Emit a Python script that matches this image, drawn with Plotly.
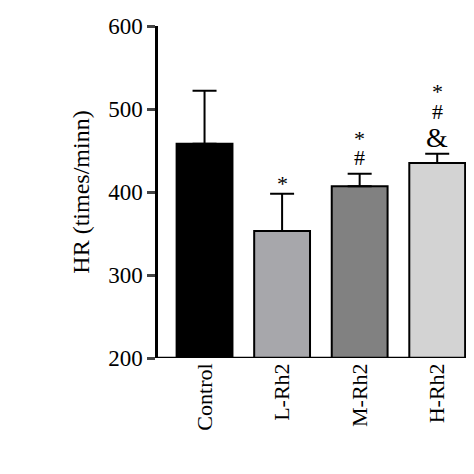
import plotly.graph_objects as go

groups = ["Control", "L-Rh2", "M-Rh2", "H-Rh2"]
hr_mean = [458, 353, 407, 435]
hr_err = [64, 45, 15, 11]
bar_colors = ["#000000", "#a7a7ab", "#818181", "#d3d3d3"]
# significance marks per group: (text, y value)
marks = [[], [("*", 410), ], [("*", 465), ("#", 441)], [("*", 521), ("#", 497), ("&", 466)]]

fig = go.Figure(go.Bar(
    x=groups, y=hr_mean,
    marker=dict(color=bar_colors, line=dict(color="black", width=2)),
    error_y=dict(type="data", symmetric=False, array=hr_err, arrayminus=[0]*4,
                 color="black", thickness=2, width=12),
    width=0.72,
))

for i, ms in enumerate(marks):
    for txt, yv in ms:
        fig.add_annotation(x=i, y=yv, text=txt, showarrow=False,
                           font=dict(size=28 if txt == "&" else 22, family="Liberation Serif", color="black"))

fig.update_layout(
    width=474, height=474, plot_bgcolor="white", paper_bgcolor="white",
    margin=dict(l=150, r=6, t=18, b=124), showlegend=False,
    font=dict(family="Liberation Serif", size=22, color="black"),
    yaxis=dict(range=[200, 600], tickvals=[200, 300, 400, 500, 600], showline=True,
               linecolor="black", linewidth=2.5, ticks="outside", ticklen=8, tickwidth=2.5,
               showgrid=False, zeroline=False, tickfont=dict(size=23),
               title=dict(text="HR (times/minn)", font=dict(size=24), standoff=12)),
    xaxis=dict(range=[-0.6, 3.5], showline=False, ticks="", tickangle=-90,
               tickfont=dict(size=22)),
)
fig.add_shape(type="line", xref="paper", yref="y", x0=0, x1=1, y0=200, y1=200,
              line=dict(color="black", width=2.5))

fig.write_html("out.html")
